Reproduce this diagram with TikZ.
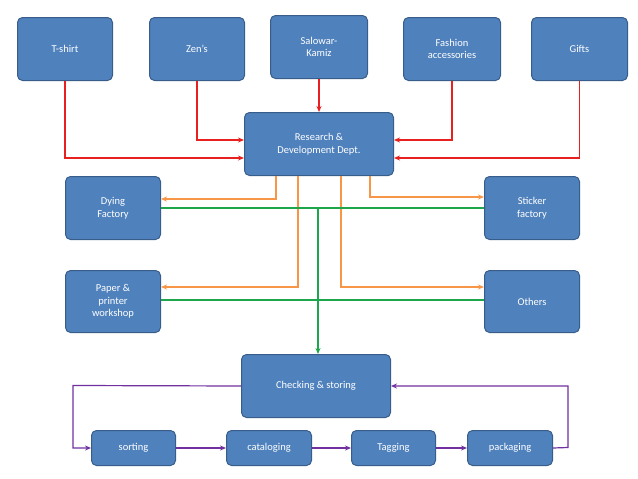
\documentclass[tikz,border=0pt]{standalone}
\usepackage{fontspec}
\setmainfont{Carlito}
\usetikzlibrary{arrows.meta}
\definecolor{bfill}{HTML}{4F81BD}
\definecolor{bline}{HTML}{385D8A}
\definecolor{ared}{HTML}{E8201F}
\definecolor{aor}{HTML}{F79646}
\definecolor{agr}{HTML}{1EA64A}
\definecolor{apu}{HTML}{7030A0}
\begin{document}
\begin{tikzpicture}[x=1pt,y=-1pt,
 box/.style={draw=bline,line width=1pt,fill=bfill,rounded corners=5pt,text=white,font=\fontsize{10.5}{12.5}\selectfont,align=center,anchor=north west,inner sep=0pt},
 ar/.style={line width=1.2pt,-{Stealth[length=6pt,width=5pt]}},
 ln/.style={line width=1.2pt}]
\useasboundingbox (0,0) rectangle (638,479);
\newcommand{\bx}[6]{\node[box,minimum width=#4pt,minimum height=#5pt] (#1) at (#2,#3) {#6};}
\bx{ts}{17}{17}{95}{63}{T-shirt}
\bx{zen}{149}{17}{95}{63}{Zen’s}
\bx{sal}{270}{15}{97}{63}{Salowar-\\Kamiz}
\bx{fa}{403}{17}{97}{63}{Fashion\\accessories}
\bx{gi}{531}{17}{96}{63}{Gifts}
\bx{rd}{244}{112}{149}{63}{Research \&\\Development Dept.}
\bx{dy}{65}{176}{95}{63}{Dying\\Factory}
\bx{st}{484}{176}{95}{63}{Sticker\\factory}
\bx{pa}{65}{270}{95}{62}{Paper \&\\printer\\workshop}
\bx{ot}{484}{270}{95}{62}{Others}
\bx{ch}{241}{354}{149}{63}{Checking \& storing}
\bx{so}{91}{430}{84}{35}{sorting}
\bx{ca}{226}{430}{85}{35}{cataloging}
\bx{ta}{351}{430}{84}{35}{Tagging}
\bx{pk}{467}{430}{85}{35}{packaging}
% red
\draw[ar,ared] (ts.south) |- (rd.west |- 0,158);
\draw[ar,ared] (zen.south) |- (rd.west |- 0,140);
\draw[ar,ared] (sal) -- (rd);
\draw[ar,ared] (fa.south) |- (rd.east |- 0,140);
\draw[ar,ared] (gi.south) |- (rd.east |- 0,158);
% orange
\draw[ar,aor] (rd.south -| 276,0) |- (dy.east |- 0,199);
\draw[ar,aor] (rd.south -| 298,0) |- (pa.east |- 0,287);
\draw[ar,aor] (rd.south -| 341,0) |- (ot.west |- 0,287);
\draw[ar,aor] (rd.south -| 370,0) |- (st.west |- 0,197);
% green
\draw[ln,agr] (dy.east |- 0,208) -- (st.west |- 0,208);
\draw[ln,agr] (pa.east |- 0,300) -- (ot.west |- 0,300);
\coordinate (g) at (318,208);
\draw[ar,agr] (g) -- (ch.north -| g);
% purple
\draw[ar,apu] (ch.west) -- (73,385.5) |- (so.west);
\draw[ar,apu] (so) -- (ca);
\draw[ar,apu] (ca) -- (ta);
\draw[ar,apu] (ta) -- (pk);
\draw[ar,apu] (pk.east) -- (568,447.5) |- (ch.east);
\end{tikzpicture}
\end{document}
